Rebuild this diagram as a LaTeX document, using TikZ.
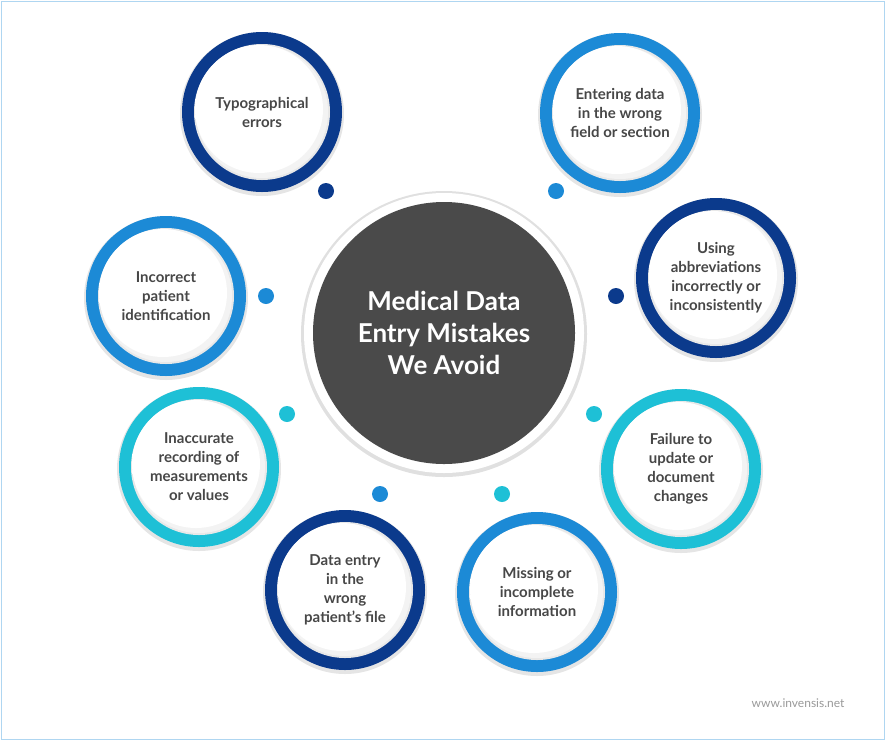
\documentclass[tikz,border=0pt]{standalone}
\usepackage{fontspec}
\setmainfont{Lato}
\begin{document}
\begin{tikzpicture}[x=1pt,y=-1pt,
  txt/.style={font=\bfseries\fontsize{15}{19}\selectfont, text=black!72, align=center},
  dot/.style={circle, inner sep=0pt, minimum size=16pt}]
\definecolor{cnavy}{HTML}{0B3A8C}
\definecolor{cblue}{HTML}{1C8AD6}
\definecolor{ccyan}{HTML}{1EC0D6}
\definecolor{cdark}{HTML}{4A4A4A}
\useasboundingbox (0,0) rectangle (885,740);
\draw[cblue!35, line width=1pt] (1,1) rectangle (884,739);
% center
\fill[black!12] (444,334) circle (143);
\fill[white] (444,333) circle (140);
\node[circle, fill=cdark, minimum size=262pt, inner sep=0pt] (c) at (444,333) {};
\node[font=\bfseries\fontsize{26}{32}\selectfont, text=white, align=center] at (c) {Medical Data\\Entry Mistakes\\We Avoid};
\newcommand{\bub}[5]{%
  \fill[black!10] (#1,#2+2) circle (82);
  \fill[#3] (#1,#2) circle (80);
  \fill[black!9] (#1,#2) circle (68);
  \shade[inner color=white, outer color=white] (#1-3,#2-3) circle (64);
  \fill[white, opacity=0.5] (#1,#2) circle (66);
  \node[txt] (#4) at (#1,#2) {#5};}
\bub{262}{112}{cnavy}{b1}{Typographical\\errors}
\bub{620}{113}{cblue}{b2}{Entering data\\in the wrong\\field or section}
\bub{716}{278}{cnavy}{b3}{Using\\abbreviations\\incorrectly or\\inconsistently}
\bub{681}{469}{ccyan}{b4}{Failure to\\update or\\document\\changes}
\bub{537}{592}{cblue}{b5}{Missing or\\incomplete\\information}
\bub{345}{590}{cnavy}{b6}{Data entry\\in the\\wrong\\patient's file}
\bub{199}{467}{ccyan}{b7}{Inaccurate\\recording of\\measurements\\or values}
\bub{166}{296}{cblue}{b8}{Incorrect\\patient\\identification}
\node[dot, fill=cnavy] (d1) at (326,191) {};
\node[dot, fill=cblue] (d2) at (556,191) {};
\node[dot, fill=cnavy] (d3) at (616,296) {};
\node[dot, fill=ccyan] (d4) at (594,414) {};
\node[dot, fill=ccyan] (d5) at (502,494) {};
\node[dot, fill=cblue] (d6) at (380,494) {};
\node[dot, fill=ccyan] (d7) at (287,414) {};
\node[dot, fill=cblue] (d8) at (266,296) {};
\node[font=\fontsize{12}{14}\selectfont, text=black!40] (w) at (798,703) {www.invensis.net};
\end{tikzpicture}
\end{document}
